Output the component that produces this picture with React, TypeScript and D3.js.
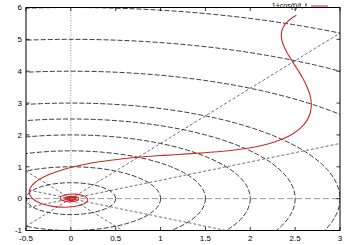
import React from "react";
import * as d3 from "d3";

// ---- data ----
const xTicks = [-0.5, 0, 0.5, 1, 1.5, 2, 2.5, 3];
const yTicks = [-1, 0, 1, 2, 3, 4, 5, 6];
const gridRadii = [0.5, 1, 1.5, 2, 2.5, 3, 4, 5, 6];
const gridAnglesDeg = [30, 60, 120, 150, 210, 240, 300, 330];
const legendLabel = "1+cos(t)/t, t";

// polar samples of the plotted curve: radius and angle (radians)
const curveR = [
  0.03446, 0.03507, 0.03569, 0.03634, 0.03701, 0.03771, 0.03843, 0.03919, 0.03997, 0.04078,
  0.04163, 0.04252, 0.04344, 0.0444, 0.04541, 0.04646, 0.04757, 0.04872, 0.04994, 0.05122,
  0.05256, 0.05398, 0.05547, 0.05705, 0.05872, 0.0605, 0.06238, 0.06438, 0.06652, 0.0688,
  0.07125, 0.07387, 0.0767, 0.07975, 0.08305, 0.08663, 0.09054, 0.09481, 0.0995, 0.10468,
  0.11043, 0.11684, 0.12403, 0.13216, 0.14141, 0.15205, 0.16438, 0.17891, 0.19617, 0.217,
  0.2427, 0.275,
  0.3, 0.32, 0.34, 0.36, 0.38, 0.4, 0.43, 0.46, 0.5, 0.55, 0.6, 0.65, 0.7, 0.8, 0.9, 1.0,
  1.1, 1.2, 1.35, 1.5, 1.65, 1.8, 2.0, 2.2, 2.4, 2.6, 2.8, 3.0, 3.2, 3.4, 3.6, 3.8, 4.0,
  4.2, 4.4, 4.6, 4.8, 5.0, 5.2, 5.4, 5.6, 5.8, 6.0, 6.2, 6.283,
];
const curveTheta = [
  30, 29.5, 29, 28.5, 28, 27.5, 27, 26.5, 26, 25.5,
  25, 24.5, 24, 23.5, 23, 22.5, 22, 21.5, 21, 20.5,
  20, 19.5, 19, 18.5, 18, 17.5, 17, 16.5, 16, 15.5,
  15, 14.5, 14, 13.5, 13, 12.5, 12, 11.5, 11, 10.5,
  10, 9.5, 9, 8.5, 8, 7.5, 7, 6.5, 6, 5.5,
  5, 4.5,
  4.1845, 3.9664, 3.7728, 3.5997, 3.4438, 3.3027, 3.1139, 2.9479, 2.7552, 2.55, 2.3756,
  2.2247, 2.0926, 1.8709, 1.6907, 1.5403, 1.4124, 1.302, 1.1622, 1.0472, 0.9521, 0.8738,
  0.7919, 0.7325, 0.6928, 0.6704, 0.6635, 0.67, 0.688, 0.7157, 0.7509, 0.7919, 0.8366,
  0.8833, 0.9302, 0.9756, 1.0182, 1.0567, 1.0901, 1.1175, 1.1385, 1.1527, 1.16, 1.1607,
  1.1592,
];

const W = 350;
const H = 245;
const L = 26, R = 340, T = 7.5, B = 230.5;

export default function App() {
  const x = d3.scaleLinear().domain([-0.5, 3]).range([L, R]);
  const y = d3.scaleLinear().domain([-1, 6]).range([B, T]);
  const ox = x(0), oy = y(0);

  const pts: [number, number][] = curveR.map((r, i) => [
    x(r * Math.cos(curveTheta[i])),
    y(r * Math.sin(curveTheta[i])),
  ]);
  const line = d3.line().curve(d3.curveCatmullRom.alpha(0.5));
  const curvePath = line(pts) || "";

  const font = "'Liberation Sans', Arial, Helvetica, sans-serif";
  const far = 20;

  return (
    <svg width={W} height={H} style={{ position: "absolute", left: 0, top: 0, background: "#fff" }}>
      <defs>
        <clipPath id="plot">
          <rect x={L} y={T} width={R - L} height={B - T} />
        </clipPath>
      </defs>
      <rect x={0} y={0} width={W} height={H} fill="#fff" />
      <g clipPath="url(#plot)">
        {gridRadii.map((r) => (
          <ellipse
            key={"c" + r}
            cx={ox}
            cy={oy}
            rx={x(r) - ox}
            ry={oy - y(r)}
            fill="none"
            stroke="#262626"
            strokeWidth={0.9}
            strokeDasharray="5 2"
          />
        ))}
        {gridAnglesDeg.map((a) => {
          const rad = (a * Math.PI) / 180;
          return (
            <line
              key={"a" + a}
              x1={ox}
              y1={oy}
              x2={x(far * Math.cos(rad))}
              y2={y(far * Math.sin(rad))}
              stroke="#404040"
              strokeWidth={0.75}
              strokeDasharray="3 2"
            />
          );
        })}
        <line x1={L} x2={R} y1={oy} y2={oy} stroke="#9a9a9a" strokeWidth={1} strokeDasharray="6 3" />
        <line x1={ox} x2={ox} y1={T} y2={B} stroke="#9a9a9a" strokeWidth={1} strokeDasharray="1 1.5" />
        <path d={curvePath} fill="none" stroke="#cc2a2a" strokeWidth={1.1} />
      </g>
      {/* frame */}
      <rect x={L} y={T} width={R - L} height={B - T} fill="none" stroke="#000" strokeWidth={1} />
      {xTicks.map((v) => (
        <g key={"xt" + v}>
          <line x1={x(v)} x2={x(v)} y1={B} y2={B - 3.5} stroke="#000" strokeWidth={0.8} />
          <line x1={x(v)} x2={x(v)} y1={T} y2={T + 3.5} stroke="#000" strokeWidth={0.8} />
          <text x={x(v)} y={241} fontSize={8} fontFamily={font} textAnchor="middle" fill="#000">
            {v}
          </text>
        </g>
      ))}
      {yTicks.map((v) => (
        <g key={"yt" + v}>
          <line x1={L} x2={L + 3.5} y1={y(v)} y2={y(v)} stroke="#000" strokeWidth={0.8} />
          <line x1={R} x2={R - 3.5} y1={y(v)} y2={y(v)} stroke="#000" strokeWidth={0.8} />
          <text x={22} y={y(v)} dy="0.35em" fontSize={8} fontFamily={font} textAnchor="end" fill="#000">
            {v}
          </text>
        </g>
      ))}
      {/* legend */}
      <text x={307} y={6} dy="0.35em" fontSize={7} fontFamily={font} textAnchor="end" fill="#000">
        {legendLabel}
      </text>
      <line x1={311} x2={328} y1={6} y2={6} stroke="#cc2a2a" strokeWidth={1} />
    </svg>
  );
}
